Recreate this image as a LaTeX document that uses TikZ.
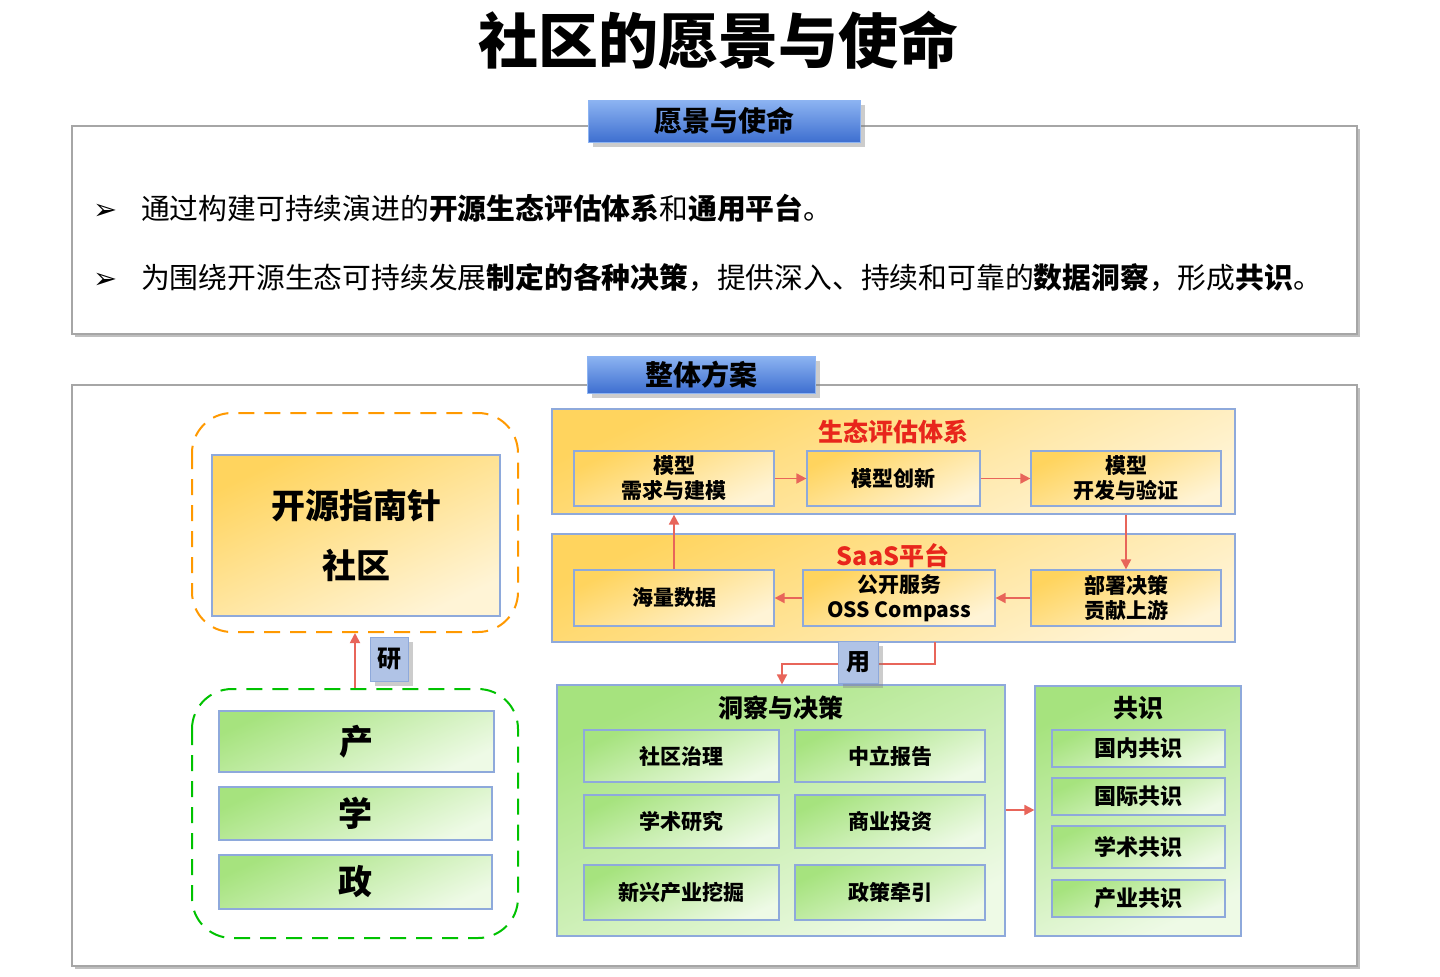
\documentclass[tikz,border=0pt]{standalone}
\usepackage{fontspec}
\setmainfont{Noto Sans CJK SC}
\newfontfamily\dv{DejaVu Sans}
\usetikzlibrary{arrows.meta,shadows}
\definecolor{ylA}{HTML}{FFD45E}\definecolor{ylB}{HTML}{FFF4D6}
\definecolor{grA}{HTML}{A6E37E}\definecolor{grB}{HTML}{EEFAE6}
\definecolor{bdr}{HTML}{8EA9DB}\definecolor{redc}{HTML}{E8655A}
\definecolor{tred}{HTML}{E8261C}
\definecolor{blA}{HTML}{8DB4F2}\definecolor{blB}{HTML}{3E6FD0}
\tikzset{
 yl/.style={draw=bdr,line width=0.6pt,top color=ylA,bottom color=ylB,shading angle=25},
 gr/.style={draw=bdr,line width=0.6pt,top color=grA,bottom color=grB,shading angle=25},
 tag/.style={fill=bdr!70!white,draw=bdr,drop shadow={opacity=0.4},font=\bfseries\fontsize{12}{12}\selectfont},
 arr/.style={draw=redc,line width=0.9pt,-{Triangle[length=5pt,width=5pt]}},
 panel/.style={draw=gray!70,line width=1.2pt,fill=white,drop shadow={shadow xshift=1.5pt,shadow yshift=-1.5pt,opacity=0.5}},
 banner/.style={draw=blA,top color=blA,bottom color=blB,shading angle=0,drop shadow={opacity=0.4}}
}
\newcommand\bx[7]{\node[#6,minimum width={(#4-#2)*0.5pt},minimum height={(#5-#3)*0.5pt},inner sep=0pt,align=center] (#1) at ({(#2+#4)/2},{(#3+#5)/2}) {#7};}
\begin{document}
\begin{tikzpicture}[x=0.5pt,y=-0.5pt]
\useasboundingbox (0,0) rectangle (1440,976);
\node[font=\bfseries\fontsize{30}{30}\selectfont] (title) at (718,40) {社区的愿景与使命};
% panel 1
\bx{p1}{72}{126}{1357}{334}{panel}{}
\bx{b1}{588}{100}{860}{142}{banner,font=\bfseries\fontsize{14}{14}\selectfont}{愿景与使命}
\node[anchor=west,font=\fontsize{14.4}{14}\selectfont] (l1) at (86,208) {{\dv ➢}\hspace{12pt}通过构建可持续演进的\textbf{开源生态评估体系}和\textbf{通用平台}。};
\node[anchor=west,font=\fontsize{14.4}{14}\selectfont] (l2) at (86,278) {{\dv ➢}\hspace{12pt}为围绕开源生态可持续发展\textbf{制定的各种决策}，提供深入、持续和可靠的\textbf{数据洞察}，形成\textbf{共识}。};
% panel 2
\bx{p2}{72}{385}{1357}{966}{panel}{}
\bx{b2}{587}{356}{815}{393}{banner,font=\bfseries\fontsize{14}{14}\selectfont}{整体方案}
% left
\draw[orange!80!yellow,line width=1pt,dash pattern=on 8pt off 5pt,rounded corners=20pt] (192,413) rectangle (518,632);
\bx{com}{212}{455}{500}{616}{yl,font=\bfseries\fontsize{17}{30}\selectfont}{开源指南针\\社区}
\draw[green!60!black!60!green,line width=1pt,dash pattern=on 8pt off 5pt,rounded corners=20pt] (192,689) rectangle (518,938);
\tikzset{big/.style={font=\bfseries\fontsize{17}{17}\selectfont}}
\bx{c1}{219}{711}{494}{772}{gr,big}{产}
\bx{c2}{219}{787}{492}{840}{gr,big}{学}
\bx{c3}{219}{855}{492}{909}{gr,big}{政}
\coordinate (ya) at (355,688); \coordinate (yb) at (355,633);
\draw[arr] (ya) -- (yb);
\bx{yan}{370}{637}{408}{681}{tag}{研}
% eco
\tikzset{sm/.style={font=\bfseries\fontsize{10.5}{12.5}\selectfont}}
\bx{eco}{552}{409}{1235}{514}{yl}{}
\node[font=\bfseries\fontsize{12.5}{12}\selectfont,text=tred] (ecot) at (893,432) {生态评估体系};
\bx{e1}{574}{451}{774}{506}{yl,sm}{模型\\需求与建模}
\bx{e2}{807}{451}{980}{506}{yl,sm}{模型创新}
\bx{e3}{1031}{451}{1221}{506}{yl,sm}{模型\\开发与验证}
\bx{saas}{552}{534}{1235}{642}{yl}{}
\node[font=\bfseries\fontsize{12.5}{12}\selectfont,text=tred] (saast) at (893,556) {SaaS平台};
\bx{s1}{574}{570}{774}{626}{yl,sm}{海量数据}
\bx{s2}{803}{570}{995}{626}{yl,sm}{公开服务\\OSS Compass}
\bx{s3}{1031}{570}{1221}{626}{yl,sm}{部署决策\\贡献上游}
\draw[arr] (e1) -- (e2);
\draw[arr] (e2) -- (e3);
\draw[arr] (eco.south -| e3) -- (s3);
\draw[arr] (s3) -- (s2);
\draw[arr] (s2) -- (s1);
\draw[arr] (s1) -- (e1.south |- eco.south);
% insight
\bx{ins}{557}{685}{1005}{936}{gr}{}
\node[font=\bfseries\fontsize{12.5}{12}\selectfont] (inst) at (781,708) {洞察与决策};
\bx{i1}{584}{730}{779}{782}{gr,sm}{社区治理}
\bx{i2}{795}{730}{985}{782}{gr,sm}{中立报告}
\bx{i3}{584}{795}{779}{848}{gr,sm}{学术研究}
\bx{i4}{795}{795}{985}{848}{gr,sm}{商业投资}
\bx{i5}{584}{865}{779}{920}{gr,sm}{新兴产业挖掘}
\bx{i6}{795}{865}{985}{920}{gr,sm}{政策牵引}
\bx{gs}{1035}{686}{1241}{936}{gr}{}
\node[font=\bfseries\fontsize{12.5}{12}\selectfont] (gst) at (1138,708) {共识};
\tikzset{sm2/.style={font=\bfseries\fontsize{11}{12}\selectfont}}
\bx{g1}{1052}{730}{1225}{767}{gr,sm2}{国内共识}
\bx{g2}{1052}{778}{1225}{815}{gr,sm2}{国际共识}
\bx{g3}{1052}{826}{1225}{868}{gr,sm2}{学术共识}
\bx{g4}{1052}{880}{1225}{917}{gr,sm2}{产业共识}
\draw[arr] (ins.east |- 0,810) -- (gs.west |- 0,810);
% use
\coordinate (u1) at (935,642); \coordinate (u2) at (935,664); \coordinate (u3) at (782,664);
\draw[arr] (u1) -- (u2) -- (u3) -- (ins.north -| u3);
\bx{yong}{838}{641}{878}{683}{tag}{用}
\end{tikzpicture}
\end{document}
